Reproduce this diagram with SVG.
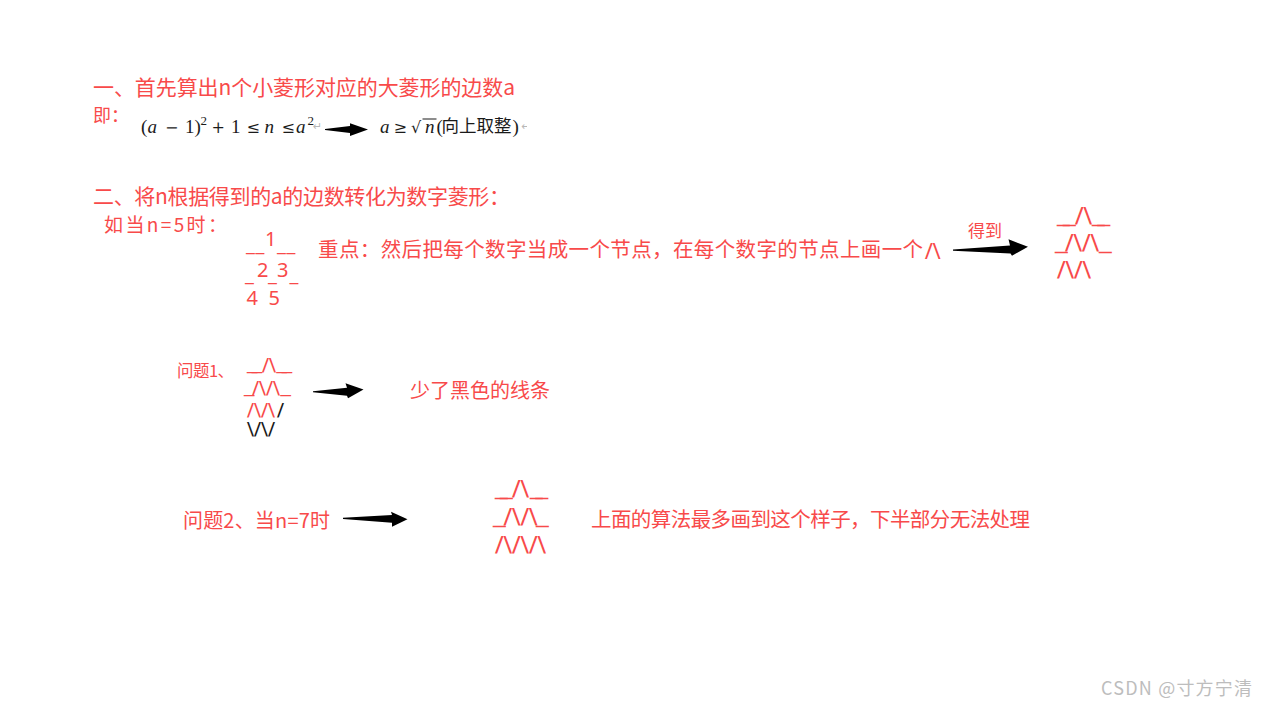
<svg xmlns="http://www.w3.org/2000/svg" width="1267" height="706" viewBox="0 0 1267 706">
<defs>
<style>
.r{fill:#f84a4a;font-family:"Noto Sans CJK SC","Noto Sans",sans-serif}
.dg{fill:#f84a4a;font-family:"Noto Sans","DejaVu Sans",sans-serif;font-size:20px}
.art{fill:#f84a4a;font-family:"DejaVu Sans",sans-serif}
.blk{fill:#1a1a1a}
.m{fill:#1a1a1a;font-family:"Liberation Serif","DejaVu Serif",serif;font-size:19px}
.op{font-family:"DejaVu Serif",serif;font-size:16px}
.it{font-style:italic}
.mark{fill:#b8b8b8;font-family:"DejaVu Sans",sans-serif;font-size:11px}
.wm{fill:#bdbdbd;font-family:"Noto Sans CJK SC",sans-serif;font-size:18px}
.arr{fill:#000}
</style>
<clipPath id="cut"><rect x="515" y="110" width="12" height="30"/></clipPath>
</defs>
<rect width="1267" height="706" fill="#fff"/>

<g id="title1">
<text class="r" x="93" y="94.5" font-size="21" textLength="422">一、首先算出n个小菱形对应的大菱形的边数a</text>
</g>

<g id="formula">
<text class="r" x="93" y="122" font-size="18">即：</text>
<text class="m" y="133">
<tspan x="141">(</tspan><tspan x="147.5" class="it">a</tspan><tspan x="165" class="op">−</tspan><tspan x="185">1</tspan><tspan x="194.5">)</tspan><tspan x="200.5" y="125" font-size="13">2</tspan><tspan x="211.5" y="133" class="op">+</tspan><tspan x="231">1</tspan><tspan x="246.5" class="op">≤</tspan><tspan x="264.5" class="it">n</tspan><tspan x="281.5" class="op">≤</tspan><tspan x="296" class="it">a</tspan><tspan x="307.5" y="125" font-size="13">2</tspan>
</text>
<text class="mark" x="313" y="130">↵</text>
<text class="m" y="133"><tspan x="380" class="it">a</tspan><tspan x="393.5" class="op">≥</tspan><tspan x="411" class="op" font-size="18">√</tspan><tspan x="425" class="it">n</tspan><tspan x="436.5">(</tspan></text>
<line x1="422.5" y1="119" x2="436.5" y2="119" stroke="#1a1a1a" stroke-width="1"/>
<text x="441.5" y="132" font-size="17.5" textLength="70" fill="#1a1a1a" font-family="Noto Sans CJK SC, sans-serif">向上取整</text>
<text class="m" x="512.5" y="133">)</text>
<text class="mark" x="521.5" y="130" clip-path="url(#cut)">↵</text>
</g>

<g id="title2">
<text class="r" x="93" y="203.5" font-size="21" textLength="417">二、将n根据得到的a的边数转化为数字菱形：</text>
</g>

<g id="example">
<text class="r" x="104" y="232" font-size="19" textLength="123">如当n=5时：</text>
</g>

<g id="number-diamond">
<text class="dg" x="246 255.5 265 277 286.5" y="250.5 250.5 245.7 250.5 250.5">__1__</text>
<text class="dg" x="245 257 268 277 289.5" y="280.5 276.7 280.5 276.7 280.5">_2_3_</text>
<text class="dg" x="246.5 268.5" y="305">45</text>
</g>

<g id="key-point">
<text class="r" x="318" y="257" font-size="20.5" textLength="605">重点：然后把每个数字当成一个节点，在每个数字的节点上画一个</text>
<g transform="translate(925,0) scale(1.15,1)"><text class="art" font-size="20" x="0 6.74" y="257">/\</text></g>
</g>

<g id="got-label">
<text class="r" x="968" y="237" font-size="17" textLength="34">得到</text>
</g>

<g id="result-pattern" transform="translate(1057,0) scale(1.15,1)">
<text class="art" font-size="22" x="0 5.22 15.65 23.04 30.43 35.13" y="221.3 221.3 223.5 223.5 221.3 221.3">__/\__</text>
<text class="art" font-size="22" x="-1.74 6.96 14.35 21.74 29.13 36.52" y="248.3 250.5 250.5 250.5 250.5 248.3">_/\/\_</text>
<text class="art" font-size="22" x="0 7.39 14.78 22.17" y="277.5">/\/\</text>
</g>

<g id="problem1-label">
<text class="r" x="177" y="377" font-size="16.5" textLength="57">问题1、</text>
</g>

<g id="problem1-pattern" transform="translate(247,0) scale(1.15,1)">
<text class="art" font-size="18" x="0 4.04 13.04 19.13 25.65 30.13" y="369.2 369.2 370.7 370.7 369.2 369.2">__/\__</text>
<text class="art" font-size="18" x="-2.61 4.35 10.43 16.52 22.61 29.13" y="392.2 393.7 393.7 393.7 393.7 392.2">_/\/\_</text>
<text class="art" font-size="18" y="415.7"><tspan x="0 6.09 12.17 18.26">/\/\</tspan><tspan class="blk" x="26.09">/</tspan></text>
<text class="art blk" font-size="18" x="0 6.09 12.17 18.26" y="435.1">\/\/</text>
</g>

<g id="problem1-note">
<text class="r" x="410" y="398" font-size="20" textLength="140">少了黑色的线条</text>
</g>

<g id="problem2-label">
<text class="r" x="183" y="528" font-size="20" textLength="147">问题2、当n=7时</text>
</g>

<g id="problem2-pattern" transform="translate(495,0) scale(1.15,1)">
<text class="art" font-size="22" x="0 4.35 14.78 22.17 30.43 35.13" y="494.3 494.3 496.3 496.3 494.3 494.3">__/\__</text>
<text class="art" font-size="22" x="-1.74 7.39 14.78 22.17 29.57 35.65" y="522.3 524.2 524.2 524.2 524.2 522.3">_/\/\_</text>
<text class="art" font-size="22" x="0 7.39 14.78 22.17 29.57 36.96" y="552.2">/\/\/\</text>
</g>

<g id="problem2-note">
<text class="r" x="591" y="527" font-size="20.5" textLength="439">上面的算法最多画到这个样子，下半部分无法处理</text>
</g>

<g id="watermark">
<text class="wm" x="1101" y="695" textLength="151">CSDN @寸方宁清</text>
</g>

<g id="connectors">
<path class="arr" d="M325,129 L350,126 L350,123.3 L368,129.5 L350,136 L350,133 L325,130 Z"/>
<path class="arr" d="M953,249.5 L1010,245.5 L1008.5,239.3 L1028,246.7 L1012,255.7 L1010.5,253.5 L953,250.7 Z"/>
<path class="arr" d="M313,391.2 L347,387.8 L345.5,383.3 L363.5,389.5 L348,398.3 L347,395.7 L313,392.3 Z"/>
<path class="arr" d="M343,517.7 L392,515 L391,511.7 L407.5,519.3 L392,526.7 L392,522.7 L343,518.9 Z"/>
</g>
</svg>
